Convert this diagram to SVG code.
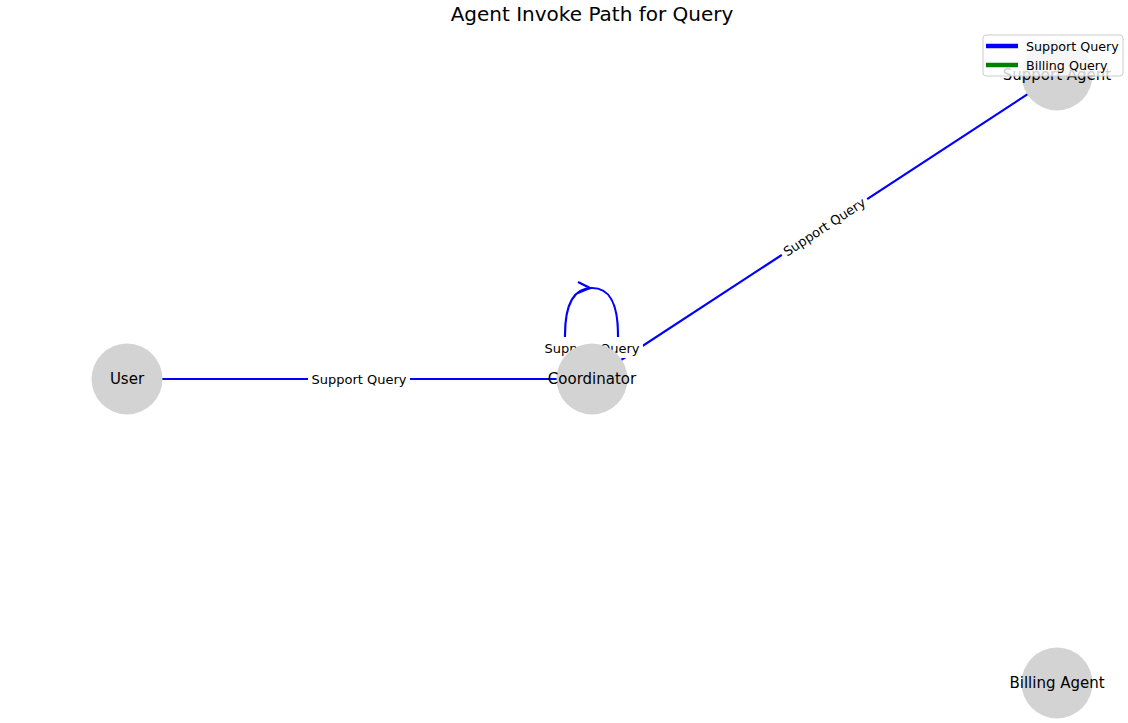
<svg xmlns="http://www.w3.org/2000/svg" width="1128" height="723" viewBox="0 0 1128 723">
<style>
text{font-family:"DejaVu Sans","Liberation Sans",sans-serif;fill:#000}
.title{font-size:20px}
.nlab{font-size:15px}
.elab{font-size:13px}
.leg{font-size:12.7px}
.node{fill:#d3d3d3}
.edge{stroke:#0000ff;stroke-width:2.2;fill:none}
.lbox{fill:#fff}
</style>
<rect width="1128" height="723" fill="#fff"/>
<text class="title" x="592" y="21" text-anchor="middle">Agent Invoke Path for Query</text>
<g id="connectors">
<line class="edge" x1="127" y1="379" x2="592" y2="379"/>
<line class="edge" x1="592" y1="379" x2="1057" y2="75"/>
<path class="edge" d="M618,360 L618,335 C618,300 608,288 592,288 C576,288 565,300 565,335 L565,360"/>
<path d="M578,282 L590,288 L578,293" fill="none" stroke="#0000ff" stroke-width="2.2"/>
</g>
<g id="edge-labels">
<g id="label-user-coordinator">
<rect class="lbox" x="308" y="368" width="102" height="22" rx="4"/>
<text class="elab" x="359" y="379" text-anchor="middle" dominant-baseline="central">Support Query</text>
</g>
<g id="label-coordinator-support" transform="translate(824.5,227) rotate(-33.2)">
<rect class="lbox" x="-51" y="-11" width="102" height="22" rx="4"/>
<text class="elab" x="0" y="0" text-anchor="middle" dominant-baseline="central">Support Query</text>
</g>
<g id="label-coordinator-self">
<rect class="lbox" x="541" y="337" width="102" height="21" rx="4"/>
<text class="elab" x="592" y="348" text-anchor="middle" dominant-baseline="central">Support Query</text>
</g>
</g>
<g id="node-user">
<circle class="node" cx="127" cy="379" r="35.5"/>
<text class="nlab" x="127" y="379" text-anchor="middle" dominant-baseline="central">User</text>
</g>
<g id="node-coordinator">
<circle class="node" cx="592" cy="379" r="35.5"/>
<text class="nlab" x="592" y="379" text-anchor="middle" dominant-baseline="central">Coordinator</text>
</g>
<g id="node-support-agent">
<circle class="node" cx="1057" cy="75" r="35.5"/>
<text class="nlab" x="1057" y="75" text-anchor="middle" dominant-baseline="central">Support Agent</text>
</g>
<g id="node-billing-agent">
<circle class="node" cx="1057" cy="683" r="35.5"/>
<text class="nlab" x="1057" y="683" text-anchor="middle" dominant-baseline="central">Billing Agent</text>
</g>
<g id="legend">
<rect x="983" y="35" width="140" height="41" rx="3" fill="#fff" fill-opacity="0.8" stroke="#cccccc" stroke-width="1"/>
<line x1="986" y1="46" x2="1018" y2="46" stroke="#0000ff" stroke-width="4.5"/>
<text class="leg" x="1026" y="46" dominant-baseline="central">Support Query</text>
<line x1="986" y1="65" x2="1018" y2="65" stroke="#008000" stroke-width="4.5"/>
<text class="leg" x="1026" y="65" dominant-baseline="central">Billing Query</text>
</g>
</svg>
